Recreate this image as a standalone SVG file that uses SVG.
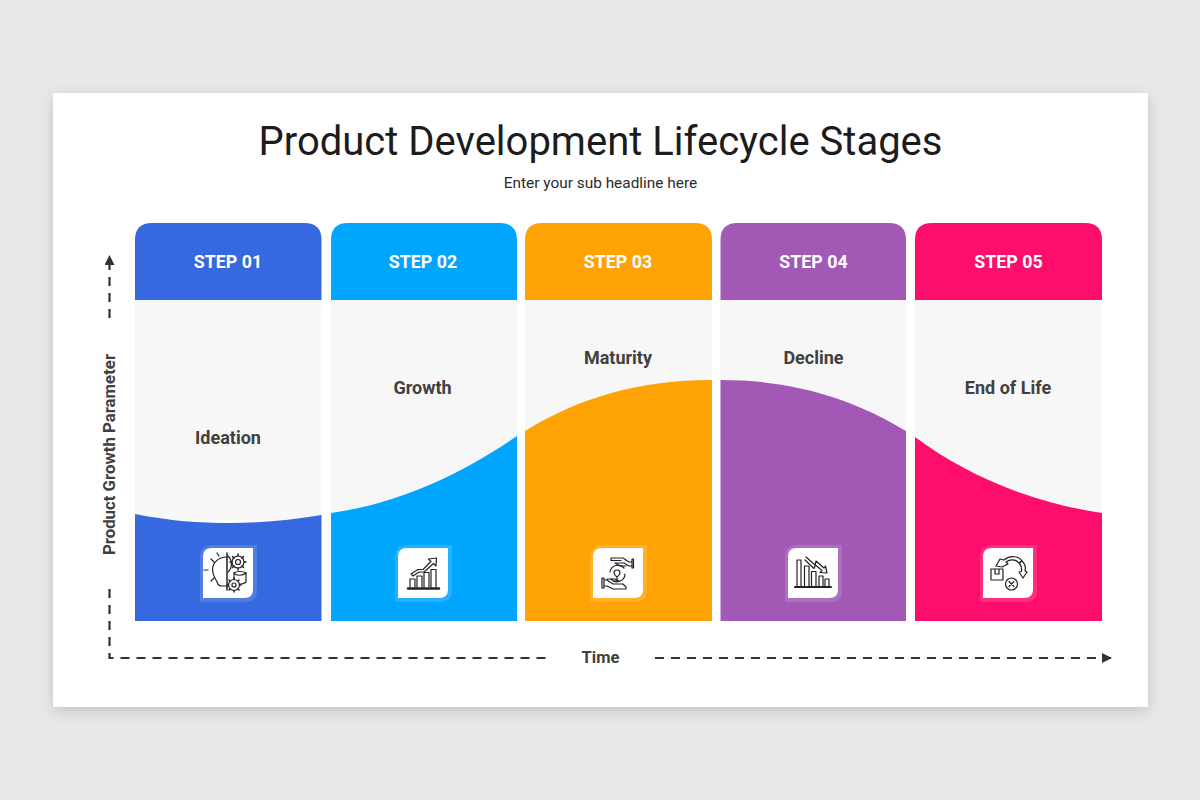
<svg xmlns="http://www.w3.org/2000/svg" width="1200" height="800" viewBox="0 0 1200 800">
<style>
text{font-family:Roboto,"Liberation Sans",sans-serif}
.step{font-size:17.800px;font-weight:700;fill:#fff;text-anchor:middle}
.lab{font-size:18px;font-weight:700;fill:#404040;text-anchor:middle}
.panel{fill:#f7f7f7}
.halo{fill:#fff;fill-opacity:.14}
.tile{fill:#fff}
.ic{fill:none;stroke:#222;stroke-width:1.2;stroke-linejoin:round;stroke-linecap:round}
.ict{fill:none;stroke:#222;stroke-width:1.500;stroke-linecap:round}
.dash{fill:none;stroke:#333;stroke-width:2.200;stroke-dasharray:9 7}
</style>
<defs>
<filter id="sh" x="-5%" y="-5%" width="110%" height="112%"><feDropShadow dx="0" dy="4" stdDeviation="7" flood-color="#000" flood-opacity=".16"/></filter>
<marker id="ah" markerWidth="11" markerHeight="11" refX="9" refY="5" orient="auto" markerUnits="userSpaceOnUse"><path d="M0 0L10 5L0 10Z" fill="#333"/></marker>
<g id="tilebase">
<path class="halo" d="M9 -3H54V42C54 50 50 54 42 54H-3V9C-3 1 1 -3 9 -3Z"/>
<path class="tile" d="M9 0H50V41C50 47 47 50 41 50H0V9C0 3 3 0 9 0Z"/>
</g>
</defs>
<rect width="1200" height="800" fill="#e9e7e8"/>
<rect x="53" y="93" width="1095" height="614" fill="#fff" filter="url(#sh)"/>
<text x="600.500" y="155" font-size="40" fill="#1c1c1c" text-anchor="middle">Product Development Lifecycle Stages</text>
<text x="600.500" y="188" font-size="15.400" fill="#2b2b2b" text-anchor="middle">Enter your sub headline here</text>

<g id="connectors">
<path class="dash" d="M109.500 318V256" marker-end="url(#ah)"/>
<path class="dash" d="M109.500 589V658H546"/>
<path class="dash" d="M655 658H1111" marker-end="url(#ah)"/>
</g>
<text transform="translate(115 454.500) rotate(-90)" font-size="16.800" font-weight="700" fill="#404040" text-anchor="middle">Product Growth Parameter</text>
<text x="600.500" y="663" font-size="16.500" font-weight="700" fill="#404040" text-anchor="middle">Time</text>

<g id="step1">
<rect class="panel" x="135" y="300" width="186.500" height="220"/>
<path fill="#3669df" d="M135 300V240Q135 223 152 223H304.500Q321.500 223 321.500 240V300Z"/>
<path fill="#3669df" d="M135 514C170 521 200 523 230 523C262 523 292 520 321.500 515V621H135Z"/>
<text class="step" x="228" y="268">STEP 01</text>
<text class="lab" x="228" y="444">Ideation</text>
<g transform="translate(203 548)">
<use href="#tilebase"/>
<path class="ic" d="M24 9C15 9 9.500 15 9.500 22C9.500 28 13 31 14.500 35C15 37 16 38 19 38H24"/>
<path class="ict" d="M24 5V42"/>
<path class="ic" d="M8 11L11 14M1 22H5M8 33L11 30M14 5L16 8"/>
<path class="ic" d="M25 24A11 11 0 0 0 25 8"/>
<circle class="ic" cx="35" cy="14" r="6"/><circle class="ic" cx="35" cy="14" r="2.500"/>
<path class="ict" d="M35 6V8M35 20V22M27 14H29M41 14H43M29.500 8.500L31 10M39 18L40.500 19.500M40.500 8.500L39 10M31 18L29.500 19.500"/>
<path class="ic" d="M31 25C33 23 40 23 43 25V34C40 37 33 37 31 34Z"/><path class="ic" d="M31 25C33 28 40 28 43 25"/>
<circle class="ic" cx="31" cy="37" r="5.500" style="fill:#fff"/><circle class="ic" cx="31" cy="37" r="2"/>
<path class="ict" d="M31 30V31.500M31 42.500V44M24 37H25.500M36.500 37H38M26 32L27 33M35 41L36 42M36 32L35 33M27 41L26 42"/>
</g>
</g>

<g id="step2">
<rect class="panel" x="331" y="300" width="186" height="220"/>
<path fill="#00a5fe" d="M331 300V240Q331 223 348 223H500Q517 223 517 240V300Z"/>
<path fill="#00a5fe" d="M331 513C400 503 460 475 517 436V621H331Z"/>
<text class="step" x="423" y="268">STEP 02</text>
<text class="lab" x="422.500" y="394">Growth</text>
<g transform="translate(398 548)">
<use href="#tilebase"/>
<path class="ict" d="M10 40.500H41" style="stroke-width:2.400"/>
<path class="ic" d="M12 39V31H17V39M19 39V28H24V39M26 39V24.500H31V39M33 39V21.500H38V39"/>
<path class="ic" d="M13 26L20 21.500H25L33 13.500L30.500 11L38.500 10L38 18L35.500 15.500L26 24H21L15 28Z"/>
</g>
</g>

<g id="step3">
<rect class="panel" x="525" y="300" width="187" height="140"/>
<path fill="#ffa304" d="M525 300V240Q525 223 542 223H695Q712 223 712 240V300Z"/>
<path fill="#ffa304" d="M525 431C580 397 640 380 712 380V621H525Z"/>
<text class="step" x="618" y="268">STEP 03</text>
<text class="lab" x="618" y="364">Maturity</text>
<g transform="translate(593 548)">
<use href="#tilebase"/>
<path class="ic" d="M18 10H30L36 14H39M39 11H40.500V20H39ZM39 18H36L31 15H22L27 18H33M18 10V12.500H28"/>
<path class="ic" d="M9 30H11V40H9ZM11 32H14L20 36H30L33 39V41H20L14 38H11M14 31H22L26 33H21"/>
<path class="ic" d="M17 24A8 8 0 0 1 31 20M32 26A8 8 0 0 1 18 31"/>
<path class="ic" d="M24 22C20 22 20 26 24 29C28 26 28 22 24 22ZM24 29V32"/>
</g>
</g>

<g id="step4">
<rect class="panel" x="720.500" y="300" width="185.500" height="140"/>
<path fill="#a258b5" d="M720.500 300V240Q720.500 223 737.500 223H889Q906 223 906 240V300Z"/>
<path fill="#a258b5" d="M720.500 380C790 380 850 397 906 431V621H720.500Z"/>
<text class="step" x="813.500" y="268">STEP 04</text>
<text class="lab" x="813.500" y="364">Decline</text>
<g transform="translate(788 548)">
<use href="#tilebase"/>
<path class="ict" d="M7 39H43" style="stroke-width:2"/>
<path class="ic" d="M9 38V12H13V38M16.500 38V18H21V38M23.500 38V23.500H28V38M31 38V28H35V38M37 38V31H41V38"/>
<path class="ic" d="M18 9L27 17L28 13L36 20L37.500 18L39 25L32 24.500L34 22.500L27.500 17L26 20.500L17 12"/>
</g>
</g>

<g id="step5">
<rect class="panel" x="915" y="300" width="187" height="220"/>
<path fill="#fd0e6c" d="M915 300V240Q915 223 932 223H1085Q1102 223 1102 240V300Z"/>
<path fill="#fd0e6c" d="M915 437C970 478 1035 503 1102 513V621H915Z"/>
<text class="step" x="1008.500" y="268">STEP 05</text>
<text class="lab" x="1008" y="394">End of Life</text>
<g transform="translate(983 548)">
<use href="#tilebase"/>
<path class="ic" d="M8 21H20V32H8ZM12 21V26H16V21"/>
<path class="ic" d="M13 18L17 11L21 12C27 7 36 8 39 13L36 15C33 11 27 11 23 14L25 16L19 19Z"/>
<path class="ic" d="M36 15L39 13C42 16 43 20 42 23L44 24L40 30L36 24L38.500 23.500C39 20 38 17 36 15Z"/>
<circle class="ic" cx="28.500" cy="36" r="6"/><path class="ic" d="M26 33.500L31 38.500M31 33.500L26 38.500"/>
</g>
</g>
</svg>
